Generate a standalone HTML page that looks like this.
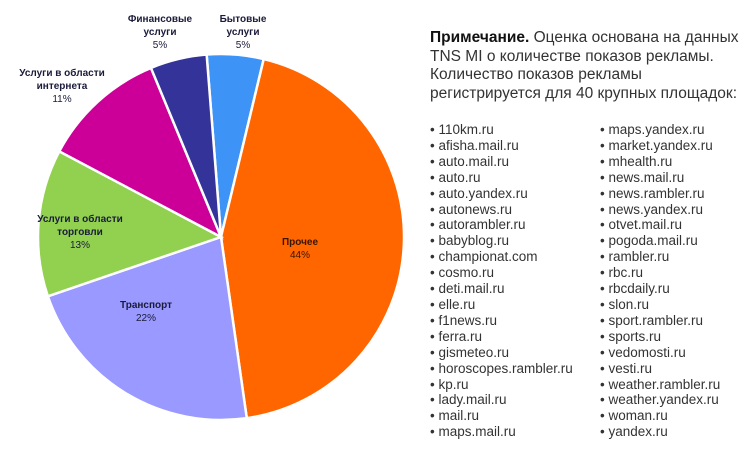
<!DOCTYPE html>
<html><head><meta charset="utf-8"><style>
body{margin:0;width:750px;height:475px;background:#fff;overflow:hidden;font-family:"Liberation Sans",sans-serif}
#note{position:absolute;left:430px;top:29px;width:320px;font-size:15.5px;line-height:18.6px;color:#333}
.col{position:absolute;top:122px;font-size:13.5px;line-height:15.9px;color:#333;white-space:nowrap}
.col div:before{content:"• ";}
</style></head><body>
<svg id="chart" width="420" height="475" style="position:absolute;left:0;top:0"></svg>
<div id="note"><b style="color:#111">Примечание.</b> Оценка основана на данных TNS MI о количестве показов рекламы. Количество показов рекламы регистрируется для 40 крупных площадок:</div>
<div class="col" style="left:430px">
<div>110km.ru</div><div>afisha.mail.ru</div><div>auto.mail.ru</div><div>auto.ru</div><div>auto.yandex.ru</div><div>autonews.ru</div><div>autorambler.ru</div><div>babyblog.ru</div><div>championat.com</div><div>cosmo.ru</div><div>deti.mail.ru</div><div>elle.ru</div><div>f1news.ru</div><div>ferra.ru</div><div>gismeteo.ru</div><div>horoscopes.rambler.ru</div><div>kp.ru</div><div>lady.mail.ru</div><div>mail.ru</div><div>maps.mail.ru</div>
</div>
<div class="col" style="left:600px">
<div>maps.yandex.ru</div><div>market.yandex.ru</div><div>mhealth.ru</div><div>news.mail.ru</div><div>news.rambler.ru</div><div>news.yandex.ru</div><div>otvet.mail.ru</div><div>pogoda.mail.ru</div><div>rambler.ru</div><div>rbc.ru</div><div>rbcdaily.ru</div><div>slon.ru</div><div>sport.rambler.ru</div><div>sports.ru</div><div>vedomosti.ru</div><div>vesti.ru</div><div>weather.rambler.ru</div><div>weather.yandex.ru</div><div>woman.ru</div><div>yandex.ru</div>
</div>
<script>
const categories=[["Бытовые","услуги"],["Прочее"],["Транспорт"],["Услуги в области","торговли"],["Услуги в области","интернета"],["Финансовые","услуги"]];
const values=[5,44,22,13,11,5];
const colors=["#3d94f6","#ff6600","#9999ff","#92d050","#cc0099","#333399"];
const cx=221,cy=237,r=183,start=-4.5;
const svg=document.getElementById('chart');
const NS="http://www.w3.org/2000/svg";
const total=values.reduce((a,b)=>a+b,0);
function pt(a,rr){const t=a*Math.PI/180;return [cx+rr*Math.sin(t),cy-rr*Math.cos(t)];}
// label positions: inside for big slices, outside for small
const labelPos=[[243,22],[300,245],[146,308],[80,222],[62,76],[160,22]];
let a=start;
values.forEach((v,i)=>{
 const a2=a+v/total*360;
 const p1=pt(a,r),p2=pt(a2,r);
 const path=document.createElementNS(NS,'path');
 path.setAttribute('d',`M${cx},${cy}L${p1[0]},${p1[1]}A${r},${r} 0 ${a2-a>180?1:0} 1 ${p2[0]},${p2[1]}Z`);
 path.setAttribute('fill',colors[i]);path.setAttribute('stroke','#fff');path.setAttribute('stroke-width','2.5');
 
 
 svg.appendChild(path);
 a=a2;
});
values.forEach((v,i)=>{
 const t=document.createElementNS(NS,'text');
 
 
 t.setAttribute('x',labelPos[i][0]);t.setAttribute('y',labelPos[i][1]);
 t.setAttribute('text-anchor','middle');t.setAttribute('font-size','10');t.setAttribute('font-weight','bold');
 t.setAttribute('fill',i==1?'#3a1500':'#1a1a3a');t.setAttribute('font-family','"Liberation Sans",sans-serif');
 const lines=categories[i].concat([v+'%']);
 lines.forEach((s,k)=>{const ts=document.createElementNS(NS,'tspan');ts.setAttribute('x',labelPos[i][0]);ts.setAttribute('dy',k?'13':'0');if(k==lines.length-1)ts.setAttribute('font-weight','normal');ts.textContent=s;t.appendChild(ts);});
 svg.appendChild(t);
});
</script>
</body></html>
